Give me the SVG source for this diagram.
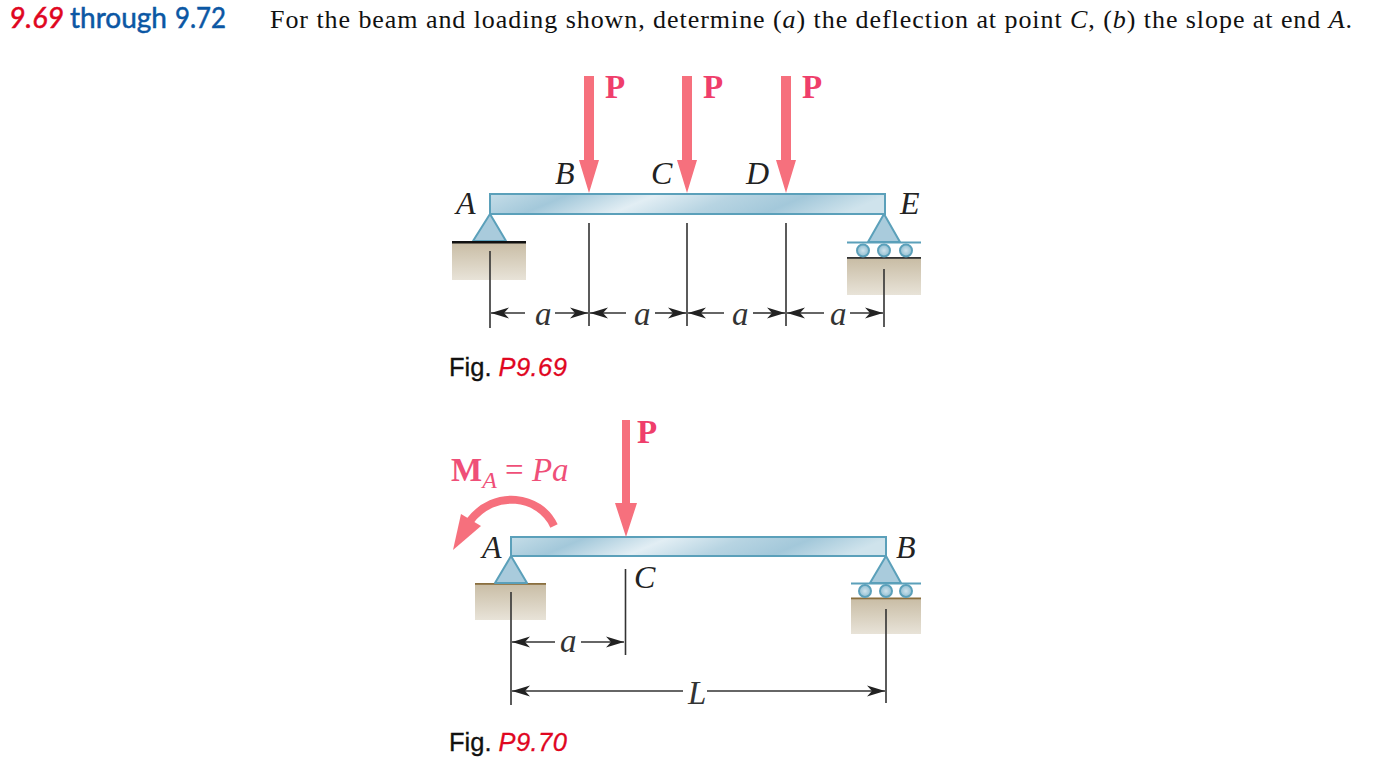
<svg xmlns="http://www.w3.org/2000/svg" width="1393" height="761" viewBox="0 0 1393 761">
<style>
.dim{stroke:#333;stroke-width:1.6;fill:none}
.ext{stroke:#333;stroke-width:1.6;fill:none}
.lab{font-family:"Liberation Serif",serif;font-style:italic;font-size:32px;fill:#222}
.dl{font-family:"Liberation Serif",serif;font-style:italic;font-size:33px;fill:#333}
.p{font-family:"Liberation Serif",serif;font-weight:bold;font-size:33px;fill:#ef3e6b}
.fig{font-family:"Liberation Sans",sans-serif;font-size:25.500px;fill:#111;stroke:#111;stroke-width:.3}
.fign{font-style:italic;fill:#e0061f;stroke:#e0061f;letter-spacing:.4px}
.head{font-family:Lato,sans-serif;font-size:28px;stroke-width:.5}
.force{fill:#f6707d}
.beam{fill:url(#beamG);stroke:#5ba0ba;stroke-width:2}
.tri{fill:#a9cbdc;stroke:#5ba0ba;stroke-width:2;stroke-linejoin:round}
.roller{fill:url(#rollG);stroke:#5ba0ba;stroke-width:2}
.rail{stroke:#5ba0ba;stroke-width:2}
</style>
<defs>
<linearGradient id="beamG" x1="0" y1="0" x2="1" y2="0.12">
<stop offset="0" stop-color="#c5dde8"/><stop offset="0.2" stop-color="#a3c8da"/><stop offset="0.42" stop-color="#e2eef4"/><stop offset="0.62" stop-color="#b7d4e2"/><stop offset="0.8" stop-color="#a3c8da"/><stop offset="1" stop-color="#cfe3ec"/>
</linearGradient>
<linearGradient id="groundG" x1="0" y1="0" x2="0" y2="1">
<stop offset="0" stop-color="#c8bca4"/><stop offset="1" stop-color="#e8e3d8"/>
</linearGradient>
<radialGradient id="rollG"><stop offset="0" stop-color="#cfe3ec"/><stop offset="1" stop-color="#8fbdd1"/></radialGradient>
<marker id="ah" markerWidth="20" markerHeight="12" refX="18" refY="6" orient="auto-start-reverse" markerUnits="userSpaceOnUse">
<path d="M0 0.500 L18 6 L0 11.500 L5 6 Z" fill="#222"/>
</marker>
</defs>

<g id="header">
<text class="head" x="9" y="28" font-style="italic" fill="#e0061f" stroke="#e0061f" textLength="55" lengthAdjust="spacingAndGlyphs">9.69</text>
<text class="head" x="70" y="28" fill="#0b57a4" stroke="#0b57a4" textLength="97" lengthAdjust="spacingAndGlyphs">through</text>
<text class="head" x="175" y="28" fill="#0b57a4" stroke="#0b57a4" textLength="51" lengthAdjust="spacingAndGlyphs">9.72</text>
<text x="270" y="28" font-family="'Liberation Serif',serif" font-size="26" fill="#111" textLength="1082">For the beam and loading shown, determine (<tspan font-style="italic">a</tspan>) the deflection at point <tspan font-style="italic">C</tspan>, (<tspan font-style="italic">b</tspan>) the slope at end <tspan font-style="italic">A</tspan>.</text>
</g>

<g id="connectors">
<g id="fig69-dims">
<path class="ext" d="M490 251V328M589 223V326M687 223V326M786 223V326M884 269V327"/>
<path class="dim" marker-start="url(#ah)" d="M491 313H525"/>
<path class="dim" marker-end="url(#ah)" d="M555 313H588"/>
<path class="dim" marker-start="url(#ah)" d="M590 313H626"/>
<path class="dim" marker-end="url(#ah)" d="M655 313H686"/>
<path class="dim" marker-start="url(#ah)" d="M688 313H724"/>
<path class="dim" marker-end="url(#ah)" d="M753 313H785"/>
<path class="dim" marker-start="url(#ah)" d="M787 313H824"/>
<path class="dim" marker-end="url(#ah)" d="M850 313H883"/>
</g>
<g id="fig70-dims">
<path class="ext" d="M511 592V705M625.500 569V655M886 609V703"/>
<path class="dim" marker-start="url(#ah)" d="M512 642H555"/>
<path class="dim" marker-end="url(#ah)" d="M581 642H624"/>
<path class="dim" marker-start="url(#ah)" d="M512 691H683"/>
<path class="dim" marker-end="url(#ah)" d="M707 691H885"/>
</g>
</g>

<g id="fig69-beam"><rect class="beam" x="490" y="194" width="395" height="20"/></g>
<g id="fig69-support-A">
<rect x="452" y="242" width="74" height="38" fill="url(#groundG)"/>
<path class="ext" d="M490 251V280"/>
<path class="tri" d="M490 214L473 241H506Z"/>
<rect x="452" y="241" width="74" height="2.500" fill="#111"/>
</g>
<g id="fig69-support-E">
<rect x="847" y="258" width="74" height="37" fill="url(#groundG)"/>
<path class="ext" d="M884 269V295"/>
<rect x="847" y="257" width="74" height="1.800" fill="#333"/>
<path class="tri" d="M884 214L868 242H900Z"/>
<path class="rail" d="M847 242.500H921"/>
<circle class="roller" cx="863" cy="250.500" r="6"/><circle class="roller" cx="884" cy="250.500" r="6"/><circle class="roller" cx="906" cy="250.500" r="6"/>
</g>
<g id="fig69-loads">
<path class="force" d="M584 76H594V160H599L589 193L579 160H584Z"/>
<path class="force" d="M682 76H692V160H697L687 193L677 160H682Z"/>
<path class="force" d="M781 76H791V160H796L786 193L776 160H781Z"/>
<text class="p" x="605" y="98">P</text><text class="p" x="703" y="98">P</text><text class="p" x="802" y="98">P</text>
</g>
<g id="fig69-labels">
<text class="lab" x="456" y="214">A</text><text class="lab" x="555" y="184">B</text><text class="lab" x="651" y="184">C</text><text class="lab" x="746" y="184">D</text><text class="lab" x="900" y="214">E</text>
<text class="dl" x="535" y="325">a</text><text class="dl" x="634" y="325">a</text><text class="dl" x="732" y="325">a</text><text class="dl" x="830" y="325">a</text>
<text class="fig" x="449" y="376">Fig. <tspan class="fign">P9.69</tspan></text>
</g>

<g id="fig70-beam"><rect class="beam" x="511" y="537" width="375" height="19"/></g>
<g id="fig70-support-A">
<rect x="475" y="583" width="71" height="37" fill="url(#groundG)"/>
<rect x="475" y="583" width="71" height="1.800" fill="#8a6f3f"/>
<path class="ext" d="M511 592V620"/>
<path class="tri" d="M511 556L495 583H527Z"/>
</g>
<g id="fig70-support-B">
<rect x="851" y="598" width="70" height="36" fill="url(#groundG)"/>
<rect x="851" y="597.500" width="70" height="1.800" fill="#8a6f3f"/>
<path class="ext" d="M886 609V634"/>
<path class="tri" d="M886 556L870 583H901Z"/>
<path class="rail" d="M851 583.500H921"/>
<circle class="roller" cx="865" cy="591" r="6"/><circle class="roller" cx="886" cy="591" r="6"/><circle class="roller" cx="906" cy="591" r="6"/>
</g>
<g id="fig70-loads">
<path class="force" d="M622 420H630V503H637L626 537L615 503H622Z"/>
<path d="M554 526C540 495 494 489 470 521" fill="none" stroke="#f6707d" stroke-width="8"/>
<path class="force" d="M453 550L461 514L481 526Z"/>
<text class="p" x="637" y="443">P</text>
<text x="451" y="481" font-family="'Liberation Serif',serif" font-size="33" fill="#ef4f78"><tspan font-weight="bold">M</tspan><tspan font-style="italic" font-size="24" dy="7">A</tspan><tspan dy="-7"> = </tspan><tspan font-style="italic">Pa</tspan></text>
</g>
<g id="fig70-labels">
<text class="lab" x="482" y="558">A</text><text class="lab" x="634" y="588">C</text><text class="lab" x="896" y="558">B</text>
<text class="dl" x="560" y="652">a</text><text class="dl" x="688" y="704">L</text>
<text class="fig" x="449" y="751">Fig. <tspan class="fign">P9.70</tspan></text>
</g>
</svg>
